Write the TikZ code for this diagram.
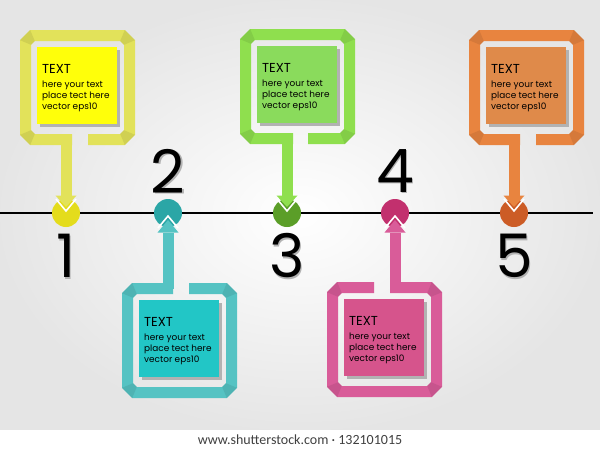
\documentclass[tikz,border=0pt]{standalone}
\usepackage{fontspec}
\setmainfont{Poppins}
\newfontfamily\footfont{Carlito}
\definecolor{yFrame}{HTML}{E2E25A}\definecolor{yNote}{HTML}{FFFF0A}\definecolor{yCirc}{HTML}{E4DC1C}
\definecolor{tFrame}{HTML}{55C3C3}\definecolor{tNote}{HTML}{22C6C6}\definecolor{tCirc}{HTML}{2BA6A6}
\definecolor{gFrame}{HTML}{8FDF4E}\definecolor{gNote}{HTML}{8ADB5C}\definecolor{gCirc}{HTML}{5B9E28}
\definecolor{pFrame}{HTML}{D95C99}\definecolor{pNote}{HTML}{D6548C}\definecolor{pCirc}{HTML}{C2306E}
\definecolor{oFrame}{HTML}{E8843F}\definecolor{oNote}{HTML}{DF8A4A}\definecolor{oCirc}{HTML}{CC5C26}
\tikzset{
 band/.style={line width=11pt, line join=miter, line cap=butt},
 stemline/.style={line width=11pt, line cap=butt},
 dot/.style={circle, minimum size=28pt, inner sep=0pt},
 notebox/.style={rectangle, minimum width=80pt, minimum height=77pt, inner sep=0pt, anchor=north west},
 notetitle/.style={anchor=base west, inner sep=0pt, font=\fontsize{13}{14}\selectfont},
 notebody/.style={anchor=north west, inner sep=0pt, align=left, font=\fontsize{8.9}{11}\selectfont},
 numeral/.style={font=\fontsize{60}{60}\selectfont, inner sep=0pt},
 chev/.style={white, line width=1.6pt, line join=miter},
 corner/.style={fill=black, fill opacity=0.08},
}
\newcommand\cornerpiece[4]{\fill[corner] ({#1+#3*10.2},{#2}) -- ({#1+#3*14.8},{#2+#4*11}) -- ({#1+#3*11},{#2+#4*14.8}) -- ({#1},{#2+#4*10.2}) -- cycle;}
% #1 id, #2 X, #3 Y, #4 stem x, #5 gap left, #6 gap right, #7 0=down 1=up, #8 colour prefix, #9 numeral
\newcommand\tlunit[9]{%
 \pgfmathsetmacro\Lx{#2+5.5}\pgfmathsetmacro\Rx{#2+109.5}%
 \pgfmathsetmacro\Ty{#3+5.5}\pgfmathsetmacro\By{#3+109.5}%
 \pgfmathsetmacro\Lc{#2+12.5}\pgfmathsetmacro\Rc{#2+102.5}%
 \pgfmathsetmacro\Tc{#3+12.5}\pgfmathsetmacro\Bc{#3+102.5}%
 \pgfmathsetmacro\Xr{#2+115}\pgfmathsetmacro\Yb{#3+115}%
 \node[dot, fill=#8Circ] (c#1) at (#4,213) {};
 \ifnum#7=0
  \draw[chev] ({#4-10},199) -- (#4,211) -- ({#4+10},199);
  \draw[band,#8Frame] (#6,\By) -- (\Rc,\By) -- (\Rx,\Bc) -- (\Rx,\Tc) -- (\Rc,\Ty) -- (\Lc,\Ty) -- (\Lx,\Tc) -- (\Lx,\Bc) -- (\Lc,\By) -- (#5,\By);
  \coordinate (s#1) at (#4,\By);
  \draw[stemline,#8Frame,shorten >=17pt] (s#1) -- (c#1.center);
  \fill[#8Frame] ({#4-10.5},195.5) -- ({#4+10.5},195.5) -- (#4,207) -- cycle;
  \node[numeral, gray!60] at ({#4+1.5},257.5) {#9};
  \node[numeral] (num#1) at (#4,256) {#9};
 \else
  \draw[chev] ({#4-10},228) -- (#4,216) -- ({#4+10},228);
  \draw[band,#8Frame] (#6,\Ty) -- (\Rc,\Ty) -- (\Rx,\Tc) -- (\Rx,\Bc) -- (\Rc,\By) -- (\Lc,\By) -- (\Lx,\Bc) -- (\Lx,\Tc) -- (\Lc,\Ty) -- (#5,\Ty);
  \coordinate (s#1) at (#4,\Ty);
  \draw[stemline,#8Frame,shorten >=20pt] (s#1) -- (c#1.center);
  \fill[#8Frame] ({#4-10.5},232.5) -- ({#4+10.5},232.5) -- (#4,220) -- cycle;
  \node[numeral, gray!60] at ({#4+1.5},172.5) {#9};
  \node[numeral] (num#1) at (#4,171) {#9};
 \fi
 \cornerpiece{#2}{#3}{1}{1}\cornerpiece{\Xr}{#3}{-1}{1}%
 \cornerpiece{#2}{\Yb}{1}{-1}\cornerpiece{\Xr}{\Yb}{-1}{-1}%
 \fill[black!30] ({#2+20},{#3+20}) rectangle ({#2+100},{#3+97});
 \node[notebox, fill=#8Note] (n#1) at ({#2+17},{#3+17}) {};
 \node[notetitle] (h#1) at ({#2+22},{#3+43}) {TEXT};
 \node[notebody] (b#1) at ({#2+22},{#3+51}) {here your text\\place tect here\\vector eps10};
}
\begin{document}
\begin{tikzpicture}[x=1pt,y=-1pt]
\useasboundingbox (0,0) rectangle (600,450);
\shade[inner color=white, outer color=black!10] (0,0) rectangle (600,430);
\fill[white] (0,430) rectangle (600,450);
\coordinate (tl0) at (0,213);
\coordinate (tl1) at (593,213);
\draw[line width=2pt, black] (tl0) -- (tl1);
\tlunit{1}{20}{30}{66}{72}{88}{0}{y}{1}
\tlunit{2}{122}{283}{168}{173}{189}{1}{t}{2}
\tlunit{3}{240}{29}{287}{293}{308}{0}{g}{3}
\tlunit{4}{327}{282}{395}{374}{390}{1}{p}{4}
\tlunit{5}{469}{30}{514}{520}{536}{0}{o}{5}
\node[font=\footfont\fontsize{14}{14}\selectfont, text=black!75] (foot) at (300,440) {www.shutterstock.com · 132101015};
\end{tikzpicture}
\end{document}
